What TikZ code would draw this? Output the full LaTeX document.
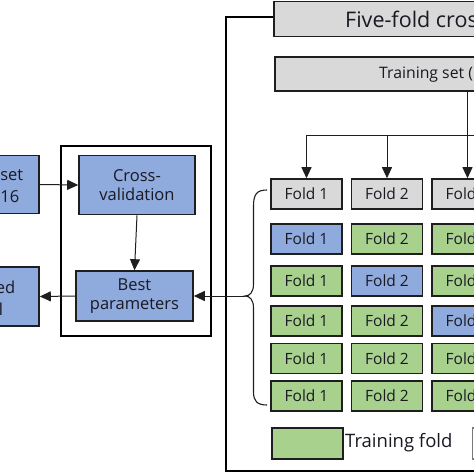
\documentclass[tikz,border=0pt]{standalone}
\usepackage{fontspec}
\setmainfont{Open Sans}
\usetikzlibrary{arrows.meta}
\definecolor{boxgray}{RGB}{217,217,217}
\definecolor{boxblue}{RGB}{143,170,220}
\definecolor{boxgreen}{RGB}{169,209,142}
\definecolor{edgec}{RGB}{30,30,30}
\definecolor{txt}{RGB}{25,25,35}
\tikzset{
  fsz/.style={font=\fontsize{#1}{#1}\selectfont},
  boxbase/.style={draw=edgec, line width=1.6pt, inner sep=0pt, text=txt},
  fold/.style={boxbase, minimum width=71pt, minimum height=30pt, fsz=15.5},
  gfold/.style={fold, fill=boxgray},
  bfold/.style={fold, fill=boxblue},
  grfold/.style={fold, fill=boxgreen},
  bluebox/.style={boxbase, fill=boxblue, align=center, fsz=16.5},
  frame/.style={draw=black, line width=1.5pt, inner sep=0pt},
  lbl/.style={inner sep=0pt, text=txt},
  arr/.style={draw=edgec, line width=1pt, -{Triangle[length=11pt,width=10pt]}},
  ln/.style={draw=edgec, line width=1pt},
}
\begin{document}
\begin{tikzpicture}[x=1pt,y=-1pt]
\useasboundingbox (0,0) rectangle (474,474);
\clip (0,0) rectangle (474,474);
\fill[white] (0,0) rectangle (474,474);

% outer frame and middle frame
\node[frame, minimum width=334pt, minimum height=454pt] (outer) at (393,244) {};
\node[frame, minimum width=150pt, minimum height=190pt] (mid) at (136,241) {};

% title and training set boxes
\node[boxbase, fill=boxgray, minimum width=346pt, minimum height=35pt] (title) at (447,19) {};
\node[lbl, anchor=west, fsz=21.5] (titletxt) at (345,19) {Five-fold cros};
\node[boxbase, fill=boxgray, minimum width=345pt, minimum height=34pt] (train) at (447.5,74) {};
\node[lbl, anchor=west, fsz=15.8] (traintxt) at (379,75) {Training set (};

% left boxes
\node[boxbase, fill=boxblue, minimum width=60pt, minimum height=58pt] (setbox) at (9,184.5) {};
\node[lbl, anchor=east, fsz=16.5] (settxt1) at (23.5,175) {set};
\node[lbl, anchor=east, fsz=16.5] (settxt2) at (19.5,197) {16};
\node[boxbase, fill=boxblue, minimum width=60pt, minimum height=59pt] (model) at (9,296.5) {};
\node[lbl, anchor=east, fsz=16.5] (modtxt1) at (15.5,287) {ed};
\node[lbl, anchor=east, fsz=16.5] (modtxt2) at (3.2,309) {l};

% middle boxes
\node[bluebox, minimum width=116pt, minimum height=59pt] (cv) at (137,185) {Cross-\\[2pt]validation};
\node[bluebox, minimum width=117pt, minimum height=50pt] (best) at (134.5,296) {Best\\[2pt]parameters};

% fold grid
\foreach \r/\y in {1/194,2/239,3/281,4/321,5/358.5,6/396}{
  \foreach \c/\x in {1/306.5,2/387,3/467.5}{
    \ifnum\r=1
      \node[gfold] (f\r\c) at (\x,\y) {Fold \c};
    \else
      \pgfmathtruncatemacro{\bl}{\r-1}
      \ifnum\bl=\c
        \node[bfold] (f\r\c) at (\x,\y) {Fold \c};
      \else
        \node[grfold] (f\r\c) at (\x,\y) {Fold \c};
      \fi
    \fi
  }
}

% legend
\node[grfold, minimum width=71pt, minimum height=31pt] (leg1) at (307.5,443.5) {};
\node[lbl, anchor=west, fsz=18.5] (legtxt) at (345,443) {Training fold};
\node[boxbase, draw={rgb,255:red,120;green,120;blue,120}, fill=white, minimum width=70pt, minimum height=31pt] (leg2) at (507.5,443.5) {};

% split lines from training set
\coordinate (hl) at (306.5,135);
\coordinate (hr) at (490,135);
\draw[ln] (hl) -- (hr);
\draw[ln] (train.south -| f13.north) -- (f13.north |- hl);
\draw[arr] (hl) -- (f11.north);
\draw[arr] (f12.north |- hl) -- (f12.north);
\draw[arr] (f13.north |- hl) -- (f13.north);

% brace
\coordinate (bt) at (245,296);
\draw[ln, line width=1.1pt] (267,190) .. controls (257,190) and (253.5,194) .. (253.5,206)
  -- (253.5,284) .. controls (253.5,292) and (250,296) .. (bt)
  .. controls (250,296) and (253.5,300) .. (253.5,308)
  -- (253.5,392) .. controls (253.5,401) and (257,405) .. (267,405);

% connectors
\draw[arr] (bt) -- (best.east);
\draw[arr] (best.west) -- (model.east);
\draw[arr] (setbox.east) -- (cv.west);
\draw[arr] (cv.south) -- (best.north);
\end{tikzpicture}
\end{document}
